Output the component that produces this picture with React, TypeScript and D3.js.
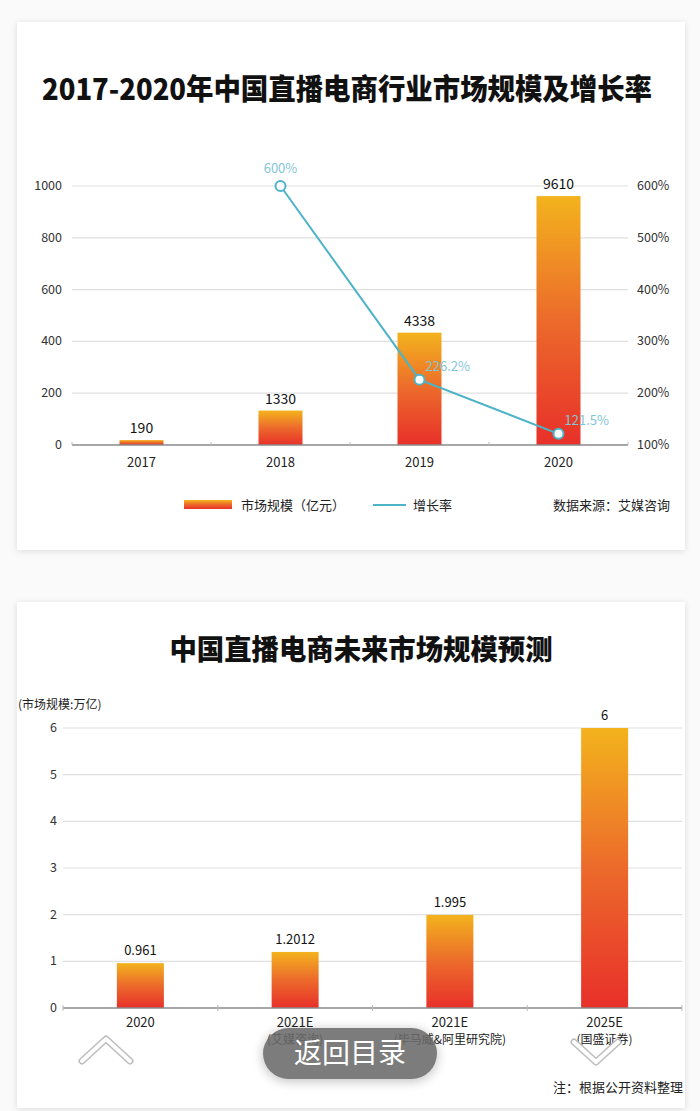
import React from 'react';
import * as d3 from 'd3';

// ---- Chart 1 data ----
const years = ['2017', '2018', '2019', '2020'];
const marketSize = [190, 1330, 4338, 9610]; // 亿元
const growthYears = ['2018', '2019', '2020'];
const growthRate = [600, 226.2, 121.5]; // %
const growthLabels = ['600%', '226.2%', '121.5%'];
const leftTicks = [0, 200, 400, 600, 800, 1000];
const rightTicks = [100, 200, 300, 400, 500, 600];

// ---- Chart 2 data ----
const fcCats = ['2020', '2021E-a', '2021E-b', '2025E'];
const fcCatLine1 = ['2020', '2021E', '2021E', '2025E'];
const fcCatLine2 = ['', '(艾媒咨询)', '(毕马威&阿里研究院)', '(国盛证券)'];
const fcValues = [0.961, 1.2012, 1.995, 6];
const fcLabels = ['0.961', '1.2012', '1.995', '6'];
const fcTicks = [0, 1, 2, 3, 4, 5, 6];

const FONT = '"Noto Sans CJK SC", "Noto Sans", sans-serif';

export default function App() {
  // chart 1 scales
  const x1 = d3.scaleBand<string>().domain(years).range([72, 628]).padding(0);
  const yL = d3.scaleLinear().domain([0, 1000]).range([445, 186]);
  const yR = d3.scaleLinear().domain([100, 600]).range([445, 186]);
  const bw1 = 44;
  const lineGen = d3
    .line<number>()
    .x((_, i) => (x1(growthYears[i]) as number) + x1.bandwidth() / 2)
    .y((d) => yR(d));

  // chart 2 scales
  const x2 = d3.scaleBand<string>().domain(fcCats).range([63, 682]).padding(0);
  const y2 = d3.scaleLinear().domain([0, 6]).range([1008, 728]);
  const bw2 = 47;

  return (
    <svg
      width={700}
      height={1111}
      style={{ position: 'absolute', left: 0, top: 0, background: '#fafafa' }}
      fontFamily={FONT}
    >
      <defs>
        <linearGradient id="barGrad" x1="0" y1="0" x2="0" y2="1">
          <stop offset="0%" stopColor="#f3b31d" />
          <stop offset="50%" stopColor="#ec6a2b" />
          <stop offset="100%" stopColor="#e8302a" />
        </linearGradient>
        <filter id="cardShadow" x="-5%" y="-5%" width="110%" height="110%">
          <feDropShadow dx="0" dy="1" stdDeviation="3" floodColor="#000" floodOpacity="0.12" />
        </filter>
        <filter id="pillShadow" x="-30%" y="-50%" width="160%" height="200%">
          <feDropShadow dx="0" dy="2" stdDeviation="6" floodColor="#000" floodOpacity="0.3" />
        </filter>
      </defs>

      {/* Card 1 */}
      <rect x={17} y={22} width={668} height={528} fill="#fff" filter="url(#cardShadow)" />
      <text
        x={347}
        y={100}
        textAnchor="middle"
        fontSize={29}
        fontWeight={900}
        fill="#111"
        textLength={610}
        lengthAdjust="spacingAndGlyphs"
      >
        2017-2020年中国直播电商行业市场规模及增长率
      </text>

      {/* gridlines */}
      {leftTicks.slice(1).map((t) => (
        <line key={t} x1={72} x2={628} y1={yL(t)} y2={yL(t)} stroke="#e0e0e0" strokeWidth={1.2} />
      ))}
      {leftTicks.map((t) => (
        <text key={t} x={62} y={yL(t) + 4} textAnchor="end" fontSize={12.5} fill="#333">
          {t}
        </text>
      ))}
      {rightTicks.map((t) => (
        <text key={t} x={637} y={yR(t) + 4} textAnchor="start" fontSize={12.5} fill="#333">
          {t}%
        </text>
      ))}

      {/* bars */}
      {years.map((yr, i) => {
        const cx = (x1(yr) as number) + x1.bandwidth() / 2;
        const top = yL(marketSize[i] / 10);
        return (
          <g key={yr}>
            <rect x={cx - bw1 / 2} y={top} width={bw1} height={yL(0) - top} fill="url(#barGrad)" />
            <text x={cx} y={top - 7} textAnchor="middle" fontSize={14} fill="#111">
              {marketSize[i]}
            </text>
            <text x={cx} y={467} textAnchor="middle" fontSize={13} fill="#222">
              {yr}
            </text>
          </g>
        );
      })}

      {/* axis */}
      <line x1={72} x2={628} y1={yL(0)} y2={yL(0)} stroke="#8a8a8a" strokeWidth={1.3} />
      {[0, 1, 2, 3, 4].map((k) => {
        const xx = 72 + k * x1.bandwidth();
        return <line key={k} x1={xx} x2={xx} y1={yL(0) - 3} y2={yL(0)} stroke="#bbb" />;
      })}

      {/* growth line */}
      <path d={lineGen(growthRate) as string} fill="none" stroke="#4cb3c9" strokeWidth={2} />
      {growthYears.map((yr, i) => {
        const cx = (x1(yr) as number) + x1.bandwidth() / 2;
        const cy = yR(growthRate[i]);
        return (
          <circle key={yr} cx={cx} cy={cy} r={5} fill="#fff" stroke="#4cb3c9" strokeWidth={2} />
        );
      })}
      {growthYears.map((yr, i) => {
        const cx = (x1(yr) as number) + x1.bandwidth() / 2;
        const cy = yR(growthRate[i]);
        const first = i === 0;
        return (
          <text
            key={yr}
            x={first ? cx : cx + 6}
            y={first ? cy - 13 : cy - 9}
            textAnchor={first ? 'middle' : 'start'}
            fontSize={13}
            fill="#7fc6d8"
          >
            {growthLabels[i]}
          </text>
        );
      })}

      {/* legend */}
      <rect x={184} y={500} width={48} height={9} fill="url(#barGrad)" />
      <text x={241} y={510} fontSize={13} fill="#222">
        市场规模（亿元）
      </text>
      <line x1={373} x2={406} y1={505} y2={505} stroke="#4cb3c9" strokeWidth={2} />
      <text x={413} y={510} fontSize={13} fill="#222">
        增长率
      </text>
      <text x={670} y={510} textAnchor="end" fontSize={13} fill="#222">
        数据来源：艾媒咨询
      </text>

      {/* Card 2 */}
      <rect x={17} y={602} width={668} height={506} fill="#fff" filter="url(#cardShadow)" />
      <text
        x={361}
        y={660}
        textAnchor="middle"
        fontSize={28}
        fontWeight={900}
        fill="#111"
        textLength={383}
        lengthAdjust="spacingAndGlyphs"
      >
        中国直播电商未来市场规模预测
      </text>
      <text x={18} y={709} fontSize={12} fill="#222">
        (市场规模:万亿)
      </text>

      {fcTicks.slice(1).map((t) => (
        <line key={t} x1={63} x2={682} y1={y2(t)} y2={y2(t)} stroke="#e0e0e0" strokeWidth={1.2} />
      ))}
      {fcTicks.map((t) => (
        <text key={t} x={57} y={y2(t) + 4} textAnchor="end" fontSize={12.5} fill="#333">
          {t}
        </text>
      ))}

      {fcCats.map((c, i) => {
        const cx = (x2(c) as number) + x2.bandwidth() / 2;
        const top = y2(fcValues[i]);
        return (
          <g key={c}>
            <rect x={cx - bw2 / 2} y={top} width={bw2} height={y2(0) - top} fill="url(#barGrad)" />
            <text x={cx} y={top - 8} textAnchor="middle" fontSize={13} fill="#111">
              {fcLabels[i]}
            </text>
            <text x={cx} y={1027} textAnchor="middle" fontSize={13} fill="#222">
              {fcCatLine1[i]}
            </text>
            {fcCatLine2[i] && (
              <text x={cx} y={1044} textAnchor="middle" fontSize={12} fill="#222">
                {fcCatLine2[i]}
              </text>
            )}
          </g>
        );
      })}
      <line x1={63} x2={682} y1={y2(0)} y2={y2(0)} stroke="#8a8a8a" strokeWidth={1.3} />
      {[0, 1, 2, 3, 4].map((k) => {
        const xx = 63 + k * x2.bandwidth();
        return <line key={k} x1={xx} x2={xx} y1={y2(0) - 3} y2={y2(0) + 3} stroke="#bbb" />;
      })}

      <text x={683} y={1092} textAnchor="end" fontSize={13} fill="#222">
        注：根据公开资料整理
      </text>

      {/* overlay UI */}
      <g>
        <polyline points="82,1061 106,1039 130,1061" fill="none" stroke="#bdbdbd" strokeWidth={7} strokeLinecap="round" strokeLinejoin="round" />
        <polyline points="82,1061 106,1039 130,1061" fill="none" stroke="#fff" strokeWidth={4} strokeLinecap="round" strokeLinejoin="round" />
        <polyline points="574,1042 596,1062 618,1042" fill="none" stroke="#bdbdbd" strokeWidth={7} strokeLinecap="round" strokeLinejoin="round" />
        <polyline points="574,1042 596,1062 618,1042" fill="none" stroke="#fff" strokeWidth={4} strokeLinecap="round" strokeLinejoin="round" />
        <rect x={263} y={1028} width={174} height={51} rx={25.5} fill="#6a6a6a" opacity={0.88} filter="url(#pillShadow)" />
        <text x={350} y={1063} textAnchor="middle" fontSize={28} fill="#fff">
          返回目录
        </text>
      </g>
    </svg>
  );
}
